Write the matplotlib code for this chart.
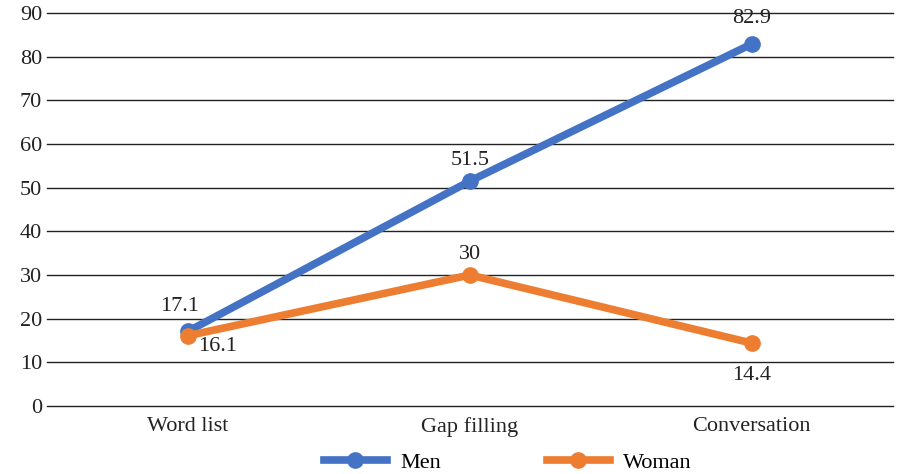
import matplotlib.pyplot as plt

categories = ['Word list', 'Gap filling', 'Conversation']
men = [17.1, 51.5, 82.9]
woman = [16.1, 30, 14.4]
men_labels = ['17.1', '51.5', '82.9']
woman_labels = ['16.1', '30', '14.4']

plt.rcParams['font.family'] = ['Liberation Serif', 'DejaVu Serif']

fig = plt.figure(figsize=(8.99, 4.74), dpi=100)
ax = fig.add_axes([0.0523, 0.1435, 0.9407, 0.8291])

x = range(len(categories))
ax.plot(x, men, color='#4472C4', lw=5.5, marker='o', ms=11, label='Men', zorder=3)
ax.plot(x, woman, color='#ED7D31', lw=5.5, marker='o', ms=11, label='Woman', zorder=4)

# data labels (offsets in points, text centred)
men_off = [(-6, 18), (0, 15), (0, 18)]
woman_off = [(21, -8), (0, 15), (0, -23)]
for i in x:
    ax.annotate(men_labels[i], (i, men[i]), xytext=men_off[i], textcoords='offset points',
                ha='center', va='center', fontsize=16, color='#222222')
    ax.annotate(woman_labels[i], (i, woman[i]), xytext=woman_off[i], textcoords='offset points',
                ha='center', va='center', fontsize=16, color='#222222')

ax.set_xlim(-0.5, 2.5)
ax.set_ylim(0, 90)
ax.set_yticks(range(0, 91, 10))
ax.set_xticks(list(x))
ax.set_xticklabels(categories)
ax.tick_params(length=0, labelsize=16, colors='#222222')
ax.tick_params(axis='x', pad=8)
ax.grid(axis='y', color='#222222', lw=1)
for gl in ax.get_ygridlines():
    gl.set_clip_on(False)
ax.set_axisbelow(True)
for s in ax.spines.values():
    s.set_visible(False)

ax.legend(loc='upper center', bbox_to_anchor=(0.545, -0.095), ncol=2, frameon=False,
          fontsize=16, handlelength=2.8, columnspacing=4.8, borderaxespad=0,
          handletextpad=0.6)

plt.savefig('out.png', dpi=100)
